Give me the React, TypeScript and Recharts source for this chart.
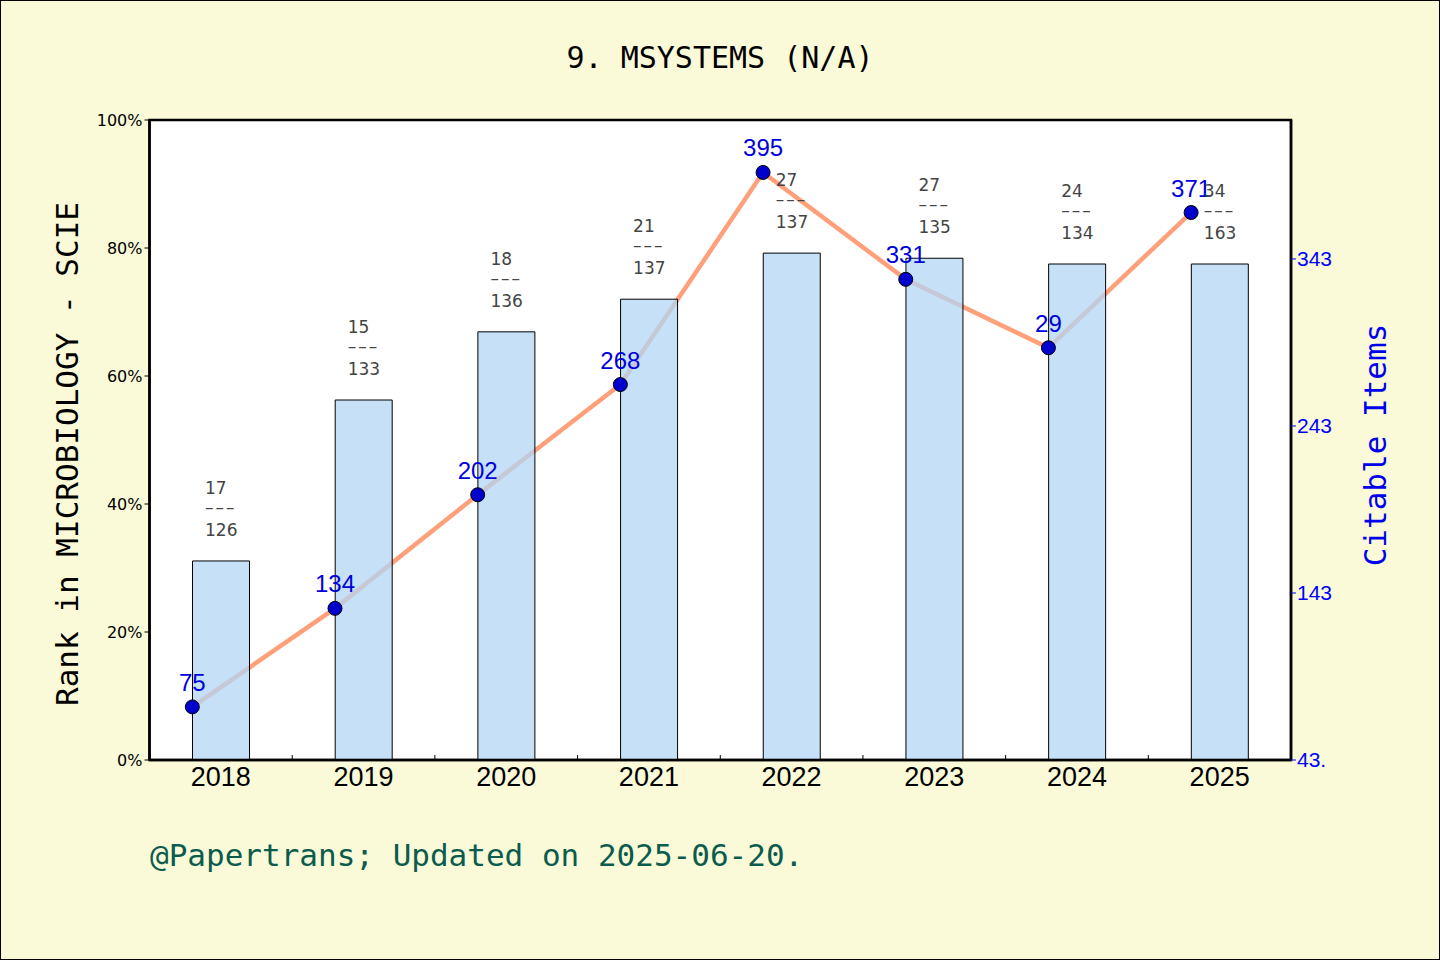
import {
  Bar,
  CartesianGrid,
  ComposedChart,
  LabelList,
  Line,
  ReferenceArea,
  XAxis,
  YAxis,
} from "recharts"

// one entry per year
const years = ["2018", "2019", "2020", "2021", "2022", "2023", "2024", "2025"]
// rank percentile bars (fraction of left axis)
const rankShare = [0.311, 0.5625, 0.669, 0.72, 0.792, 0.784, 0.775, 0.775]
// rank / category size shown above each bar
const rankPos = [17, 15, 18, 21, 27, 27, 24, 34]
const rankTotal = [126, 133, 136, 137, 137, 135, 134, 163]
// citable items (right axis) and the labels printed beside the points
const citable = [75, 134, 202, 268, 395, 331, 290, 371]
const citableLabels = ["75", "134", "202", "268", "395", "331", "29", "371"]

const leftTicks = [0, 0.2, 0.4, 0.6, 0.8, 1]
const rightTicks = [43.2, 143.2, 243.2, 343.2]

const BAR_SIZE = 57
const SANS = "'Liberation Sans', Arial, sans-serif"
const MONO = "'DejaVu Sans Mono', 'Liberation Mono', monospace"

// line points sit on the left edge of each bar
const data = years.map((year, i) => ({
  year,
  pos: i + 0.5 - 0.2,
  share: rankShare[i],
  citable: citable[i],
  label: citableLabels[i],
  frac: [rankPos[i], rankTotal[i]],
}))

function YearTick(props: any) {
  const { x, y, payload, index } = props
  const half = payload?.offset ?? 71.4
  return (
    <g>
      {index > 0 && (
        <line x1={x - half} x2={x - half} y1={y} y2={y - 5} stroke="#000" strokeWidth={1} />
      )}
      <text x={x} y={y + 26} textAnchor="middle" fontFamily={SANS} fontSize={27} fill="#000">
        {payload.value}
      </text>
    </g>
  )
}

function CitableDot(props: any) {
  const { cx, cy, index, payload } = props
  if (cx == null || cy == null) return null
  return (
    <g key={`dot-${index}`}>
      <circle cx={cx} cy={cy} r={7} fill="#0000cd" stroke="#000" strokeWidth={1} />
      <text x={cx} y={cy - 16} textAnchor="middle" fontFamily={SANS} fontSize={24} fill="#0000dd">
        {payload.label}
      </text>
    </g>
  )
}

function FractionLabel(props: any) {
  const { x, y, width, index } = props
  const left = x + width / 2 - 16
  const [top, bottom] = data[index].frac
  return (
    <g fontFamily="'DejaVu Sans', sans-serif" fontSize={17} fill="#444">
      <text x={left} y={y - 67}>{top}</text>
      <text x={left} y={y - 48} letterSpacing={2}>–––</text>
      <text x={left} y={y - 25}>{bottom}</text>
    </g>
  )
}

export default function App() {
  return (
    <div style={{ position: "absolute", left: 0, top: 0, width: 1440, height: 960, background: "#fafad9" }}>
      <ComposedChart
        width={1440}
        height={960}
        data={data}
        margin={{ top: 120, right: 0, bottom: 170, left: 0.5 }}
      >
        <CartesianGrid xAxisId="cat" yAxisId="left" fill="#fff" stroke="none" horizontal={false} vertical={false} />
        <XAxis
          xAxisId="cat"
          dataKey="year"
          height={30}
          tickSize={0}
          tickMargin={0}
          tickLine={false}
          axisLine={{ stroke: "#000", strokeWidth: 2.5 }}
          tick={<YearTick />}
          interval={0}
        />
        <XAxis xAxisId="num" dataKey="pos" type="number" domain={[0, 8]} hide />
        <YAxis
          yAxisId="left"
          width={149}
          domain={[0, 1]}
          ticks={leftTicks}
          tickFormatter={(v: number) => `${Math.round(v * 100)}%`}
          tick={{ fill: "#000", fontSize: 16, fontFamily: "'DejaVu Sans', sans-serif" }}
          tickLine={{ stroke: "#000" }}
          tickSize={5}
          axisLine={{ stroke: "#000", strokeWidth: 2.5 }}
        />
        <YAxis
          yAxisId="right"
          orientation="right"
          width={149}
          domain={[43.2, 426.4]}
          ticks={rightTicks}
          allowDataOverflow
          tickFormatter={(v: number) => String(v).slice(0, 3)}
          tick={{ fill: "#0000ff", fontSize: 21, fontFamily: SANS }}
          tickLine={{ stroke: "#0000ff" }}
          tickSize={5}
          tickMargin={1}
          axisLine={{ stroke: "#000", strokeWidth: 2.5 }}
        />
        <Line
          xAxisId="num"
          yAxisId="right"
          dataKey="citable"
          stroke="#ffa07a"
          strokeWidth={4.5}
          dot={<CitableDot />}
          activeDot={false}
          isAnimationActive={false}
        />
        <Bar
          xAxisId="cat"
          yAxisId="left"
          dataKey="share"
          barSize={BAR_SIZE}
          fill="rgb(178,214,244)"
          fillOpacity={0.75}
          stroke="#000"
          strokeWidth={1}
          isAnimationActive={false}
          zIndex={450}
        >
          <LabelList dataKey="share" content={<FractionLabel />} />
        </Bar>
        <ReferenceArea
          xAxisId="num"
          yAxisId="left"
          x1={0}
          x2={8}
          y1={0}
          y2={1}
          fill="none"
          stroke="#000"
          strokeWidth={2.5}
        />
      </ComposedChart>

      <div style={{ position: "absolute", left: 720, top: 57, transform: "translate(-50%, -50%)", fontFamily: MONO, fontSize: 30, color: "#000", whiteSpace: "nowrap" }}>
        9. MSYSTEMS (N/A)
      </div>
      <div style={{ position: "absolute", left: 67, top: 454, transform: "translate(-50%, -50%) rotate(-90deg)", fontFamily: MONO, fontSize: 31, color: "#000", whiteSpace: "nowrap" }}>
        Rank in MICROBIOLOGY - SCIE
      </div>
      <div style={{ position: "absolute", left: 1375, top: 445, transform: "translate(-50%, -50%) rotate(-90deg)", fontFamily: MONO, fontSize: 31, color: "#0000ee", whiteSpace: "nowrap" }}>
        Citable Items
      </div>
      <div style={{ position: "absolute", left: 150, top: 855, transform: "translateY(-50%)", fontFamily: MONO, fontSize: 31, color: "#0b5c4c", whiteSpace: "nowrap" }}>
        @Papertrans; Updated on 2025-06-20.
      </div>
      <div style={{ position: "absolute", left: 0, top: 0, width: 1440, height: 960, boxSizing: "border-box", border: "1px solid #000", pointerEvents: "none" }} />
    </div>
  )
}
